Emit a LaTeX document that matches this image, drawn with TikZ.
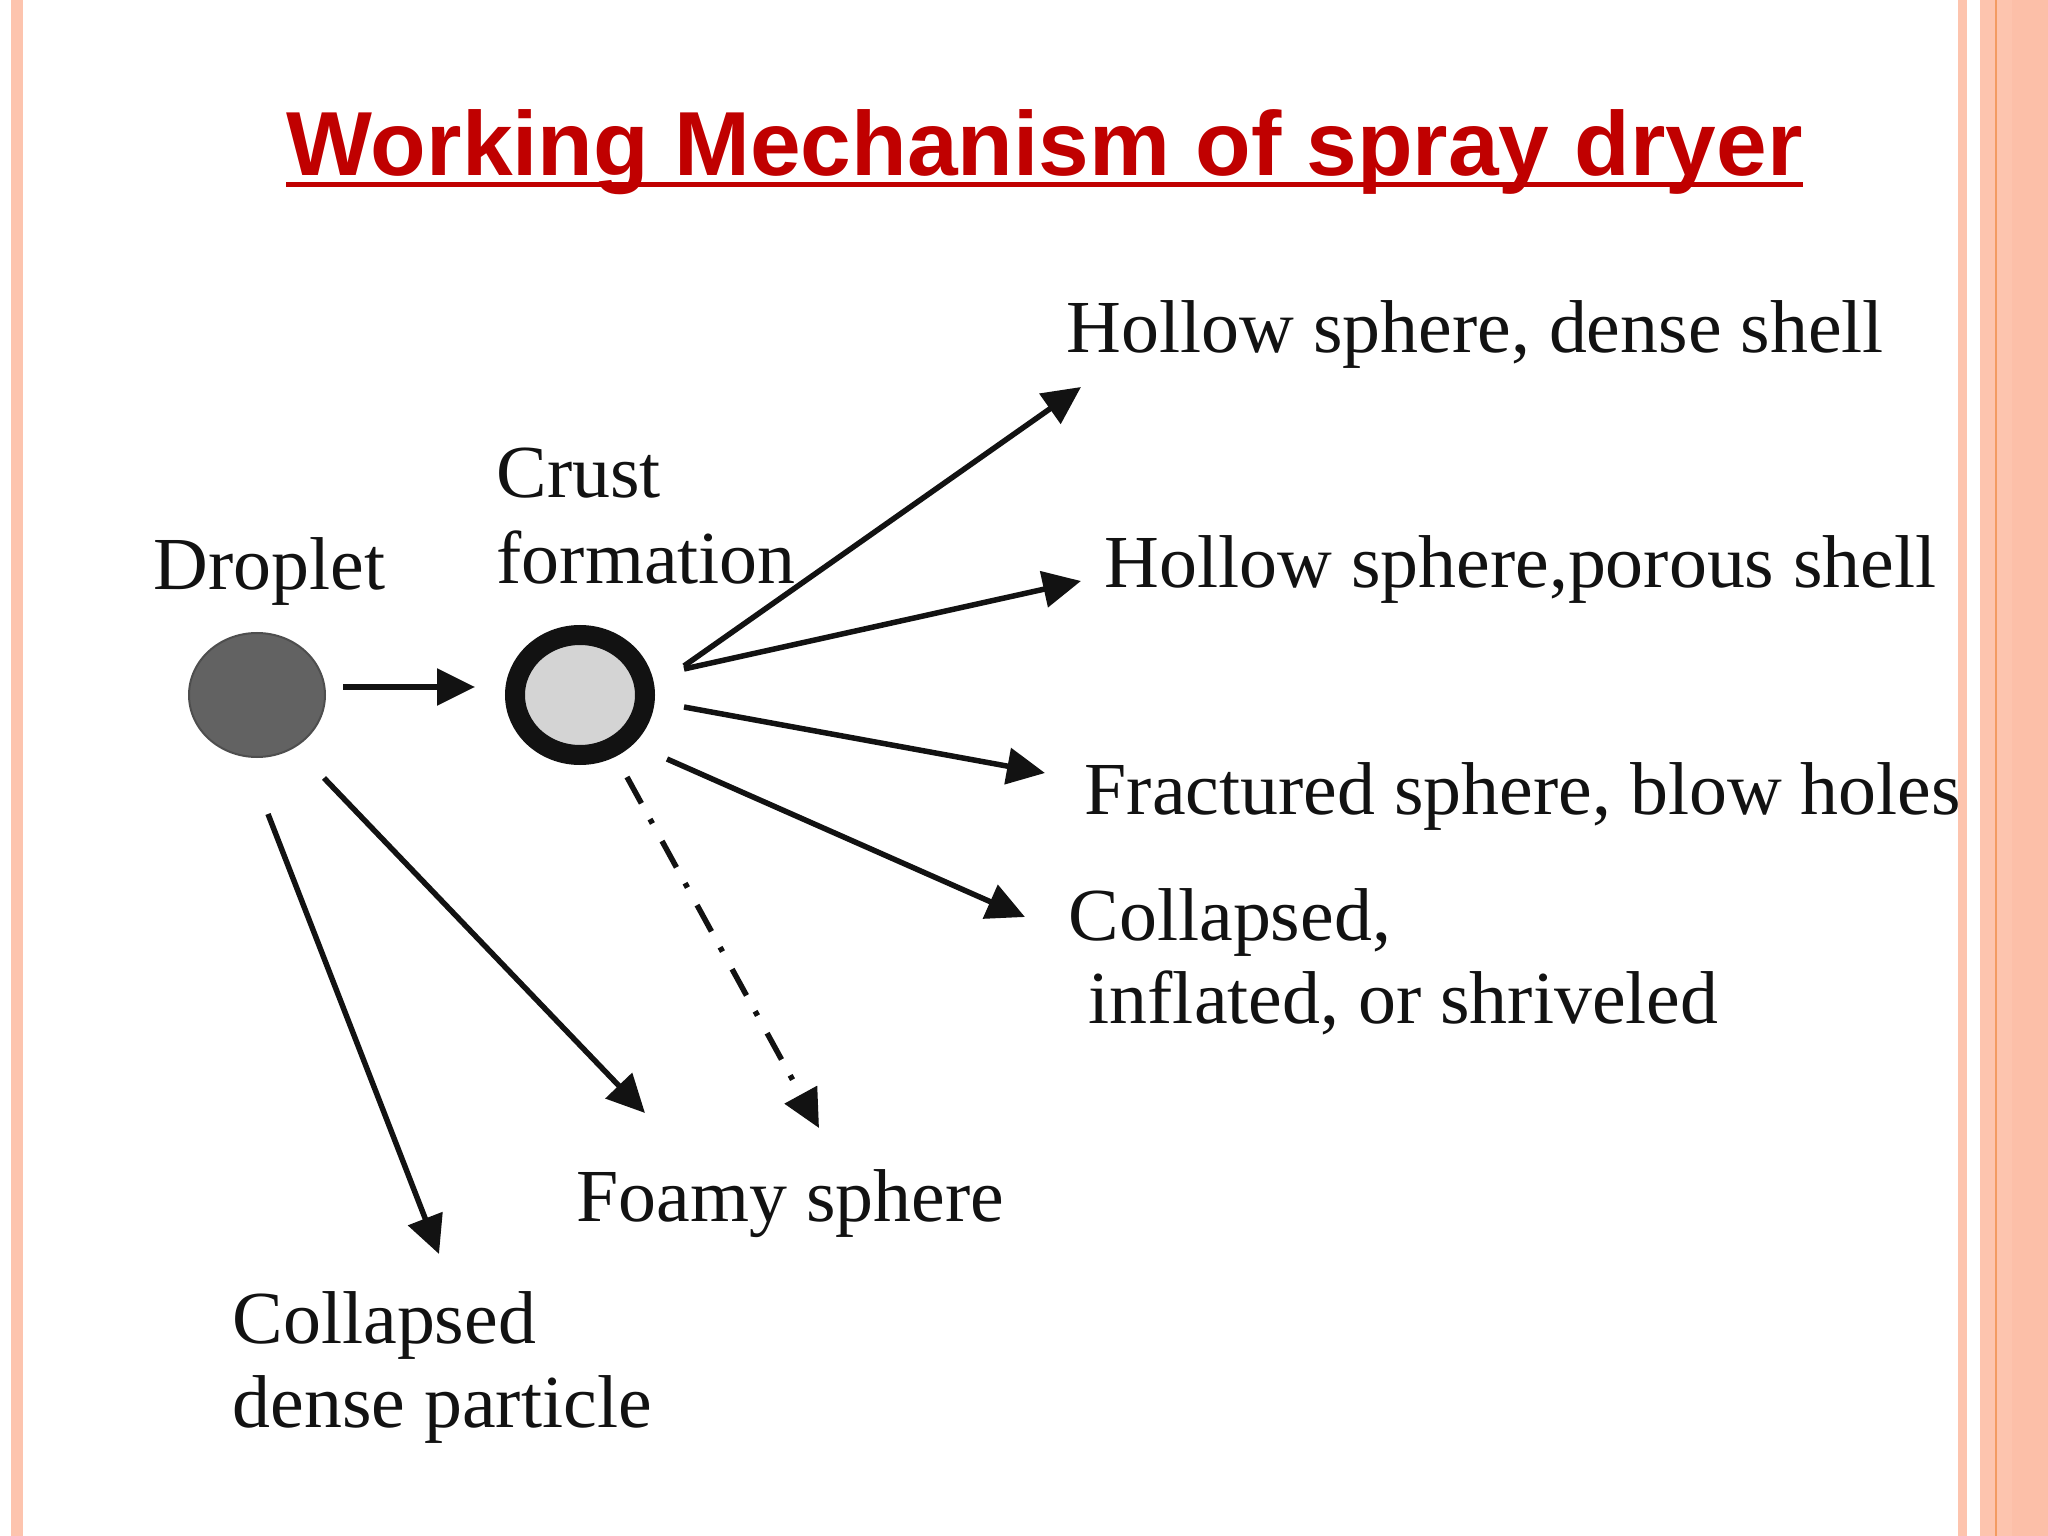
\documentclass[tikz,border=0pt]{standalone}
\usepackage{fontspec}
\setmainfont{Liberation Serif}[FakeStretch=1.013]
\newfontfamily\titlefont{Liberation Sans}
\usetikzlibrary{positioning,shapes.geometric,arrows.meta,calc}
\definecolor{TitleRed}{HTML}{C00000}
\definecolor{Salmon}{HTML}{FDC4AE}
\definecolor{SalmonDark}{HTML}{FCBFA8}
\definecolor{Edge}{HTML}{F39B62}
\definecolor{Drop}{HTML}{626262}
\definecolor{Shell}{HTML}{D4D4D4}
\definecolor{Ink}{HTML}{121212}

\begin{document}
\begin{tikzpicture}[
    lbl/.style={anchor=base west,inner sep=0pt,text=Ink,font=\fontsize{21.3}{25}\selectfont},
    arrow/.style={-{Triangle[length=0.38cm,width=0.36cm]},line width=0.055cm,Ink},
    dashdot/.style={arrow,dash pattern=on 0.3cm off 0.18cm on 0.05cm off 0.2cm}
  ]
    \useasboundingbox[fill=white] (0,0) rectangle (20.48,-15.36);
    % title
    \node[anchor=base west,inner sep=0pt,text=TitleRed,font=\titlefont\bfseries\fontsize{25.9}{30}\selectfont] (title) at (2.86,-1.76) {Working Mechanism of spray dryer};
    \draw[TitleRed,line width=0.05cm] ($(title.base west)+(0,-0.09)$) -- ($(title.base east)+(0,-0.09)$);
    % particles
    \node[ellipse,minimum width=1.36cm,minimum height=1.24cm,inner sep=0pt,fill=Drop,draw=Drop!80!black,line width=0.02cm] (drop) at (2.57,-6.95) {};
    \node[ellipse,minimum width=1.30cm,minimum height=1.20cm,inner sep=0pt,fill=Shell,draw=Ink,line width=0.2cm] (crust) at (5.80,-6.95) {};
    % labels
    \node[lbl] (dropL) at (1.53,-5.90) {Droplet};
    \node[lbl] (crustA) at (4.96,-4.98) {Crust};
    \node[lbl] (crustB) at (4.96,-5.84) {formation};
    \node[lbl] (dense) at (10.66,-3.53) {Hollow sphere, dense shell};
    \node[lbl] (porous) at (11.04,-5.88) {Hollow sphere,porous shell};
    \node[lbl] (fract) at (10.84,-8.14) {Fractured sphere, blow holes};
    \node[lbl] (collA) at (10.68,-9.40) {Collapsed,};
    \node[lbl] (collB) at (10.88,-10.23) {inflated, or shriveled};
    \node[lbl] (foamy) at (5.76,-12.21) {Foamy sphere};
    \node[lbl] (denseA) at (2.32,-13.43) {Collapsed};
    \node[lbl] (denseB) at (2.32,-14.27) {dense particle};
    % arrow ends
    \coordinate (d0) at (3.43,-6.87); \coordinate (d1) at (4.75,-6.87);
    \coordinate (a0) at (6.84,-6.66); \coordinate (a1) at (10.81,-3.87);
    \coordinate (b0) at (6.84,-6.69); \coordinate (b1) at (10.81,-5.81);
    \coordinate (c0) at (6.84,-7.07); \coordinate (c1) at (10.45,-7.73);
    \coordinate (e0) at (6.67,-7.59); \coordinate (e1) at (10.25,-9.17);
    \coordinate (f0) at (6.27,-7.77); \coordinate (f1) at (8.19,-11.28);
    \coordinate (g0) at (3.24,-7.78); \coordinate (g1) at (6.45,-11.13);
    \coordinate (h0) at (2.68,-8.14); \coordinate (h1) at (4.39,-12.54);
    \draw[arrow] (d0)--(d1); \draw[arrow] (a0)--(a1); \draw[arrow] (b0)--(b1);
    \draw[arrow] (c0)--(c1); \draw[arrow] (e0)--(e1); \draw[dashdot] (f0)--(f1);
    \draw[arrow] (g0)--(g1); \draw[arrow] (h0)--(h1);
    % slide border
    \fill[Salmon] (0.11,0) rectangle (0.23,-15.36);
    \fill[Salmon] (19.58,0) rectangle (19.67,-15.36);
    \fill[white] (19.67,0) rectangle (19.80,-15.36);
    \fill[Salmon] (19.80,0) rectangle (20.48,-15.36);
    \fill[SalmonDark] (20.12,0) rectangle (20.48,-15.36);
    \draw[Edge,line width=0.02cm] (19.96,0) -- (19.96,-15.36);
  \end{tikzpicture}
\end{document}
